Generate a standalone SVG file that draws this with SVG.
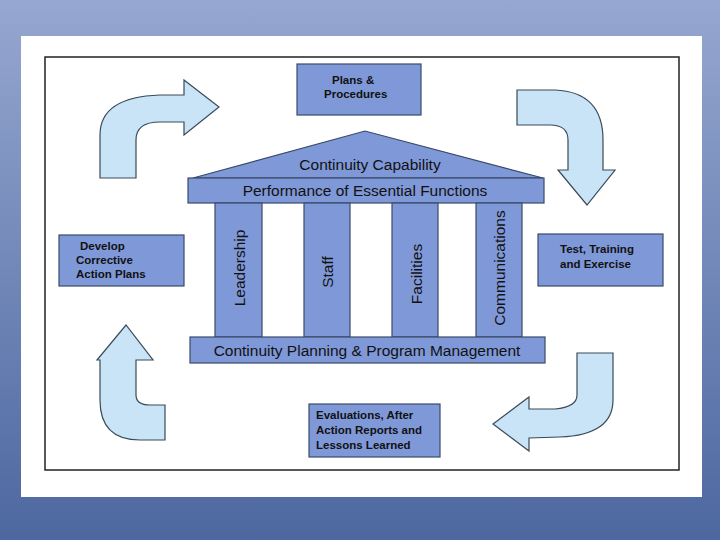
<svg xmlns="http://www.w3.org/2000/svg" width="720" height="540" viewBox="0 0 720 540">
<defs>
<linearGradient id="bg" x1="0" y1="0" x2="0" y2="1"><stop offset="0" stop-color="#96a7d0"/><stop offset="1" stop-color="#4d68a0"/></linearGradient>
<style>
.b{fill:#7f98d8;stroke:#3a4a6a;stroke-width:1.2}
.a{fill:#c8e4f6;stroke:#3a4a5a;stroke-width:1.2}
.t{font-family:"Liberation Sans",Arial,sans-serif;font-weight:bold;font-size:11.5px;fill:#111}
.p{font-family:"Liberation Sans",Arial,sans-serif;font-size:15.5px;fill:#111}
</style>
</defs>
<rect width="720" height="540" fill="url(#bg)"/>
<rect x="21" y="36" width="681" height="461" fill="#fff"/>
<rect x="45" y="57" width="634" height="413" fill="none" stroke="#222" stroke-width="1.5"/>
<g id="connectors">
<path class="a" d="M100,178 L100,135 Q100,97 160,95 L184,95 L184,80 L219,107 L184,135 L184,122 L160,122 Q136,122 136,140 L136,178 Z"/>
<path class="a" d="M517,90 L555,90 Q603,92 603,140 L603,170 L615,170 L587,205 L558,170 L568,170 L568,140 Q568,125 550,125 L517,125 Z"/>
<path class="a" d="M577,353 L613,353 L613,400 Q613,435 560,437 L529,438 L529,451 L493,424 L529,397 L529,409 L555,409 Q577,407 577,395 Z"/>
<path class="a" d="M165,440 L140,440 Q100,440 100,400 L100,360 L97,360 L126,325 L153,360 L136,360 L136,395 Q136,405 150,405 L165,405 Z"/>
</g>
<g id="plans"><rect class="b" x="297" y="64" width="124" height="51"/><text class="t" x="332" y="84">Plans &amp;</text><text class="t" x="324" y="98">Procedures</text></g>
<g id="develop"><rect class="b" x="59" y="235" width="125" height="51"/><text class="t" x="80" y="250">Develop</text><text class="t" x="76" y="264">Corrective</text><text class="t" x="76" y="278">Action Plans</text></g>
<g id="test"><rect class="b" x="538" y="234" width="125" height="52"/><text class="t" x="560" y="253">Test, Training</text><text class="t" x="560" y="268">and Exercise</text></g>
<g id="evaluations"><rect class="b" x="309" y="404" width="131" height="53"/><text class="t" x="316" y="419">Evaluations, After</text><text class="t" x="316" y="434">Action Reports and</text><text class="t" x="316" y="449">Lessons Learned</text></g>
<g id="building">
<polygon class="b" points="193,178 365,131 543,178"/>
<text class="p" x="370" y="170" text-anchor="middle">Continuity Capability</text>
<rect class="b" x="188" y="178" width="356" height="25"/>
<text class="p" x="365" y="196" text-anchor="middle">Performance of Essential Functions</text>
<rect class="b" x="215" y="203" width="47" height="134"/>
<rect class="b" x="304" y="203" width="46" height="134"/>
<rect class="b" x="392" y="203" width="46" height="134"/>
<rect class="b" x="476" y="203" width="46" height="134"/>
<text class="p" transform="translate(245,268) rotate(-90)" text-anchor="middle">Leadership</text>
<text class="p" transform="translate(333,272) rotate(-90)" text-anchor="middle">Staff</text>
<text class="p" transform="translate(422,274) rotate(-90)" text-anchor="middle">Facilities</text>
<text class="p" transform="translate(505,268) rotate(-90)" text-anchor="middle">Communications</text>
<rect class="b" x="190" y="337" width="355" height="26"/>
<text class="p" x="367" y="356" text-anchor="middle">Continuity Planning &amp; Program Management</text>
</g>
</svg>
